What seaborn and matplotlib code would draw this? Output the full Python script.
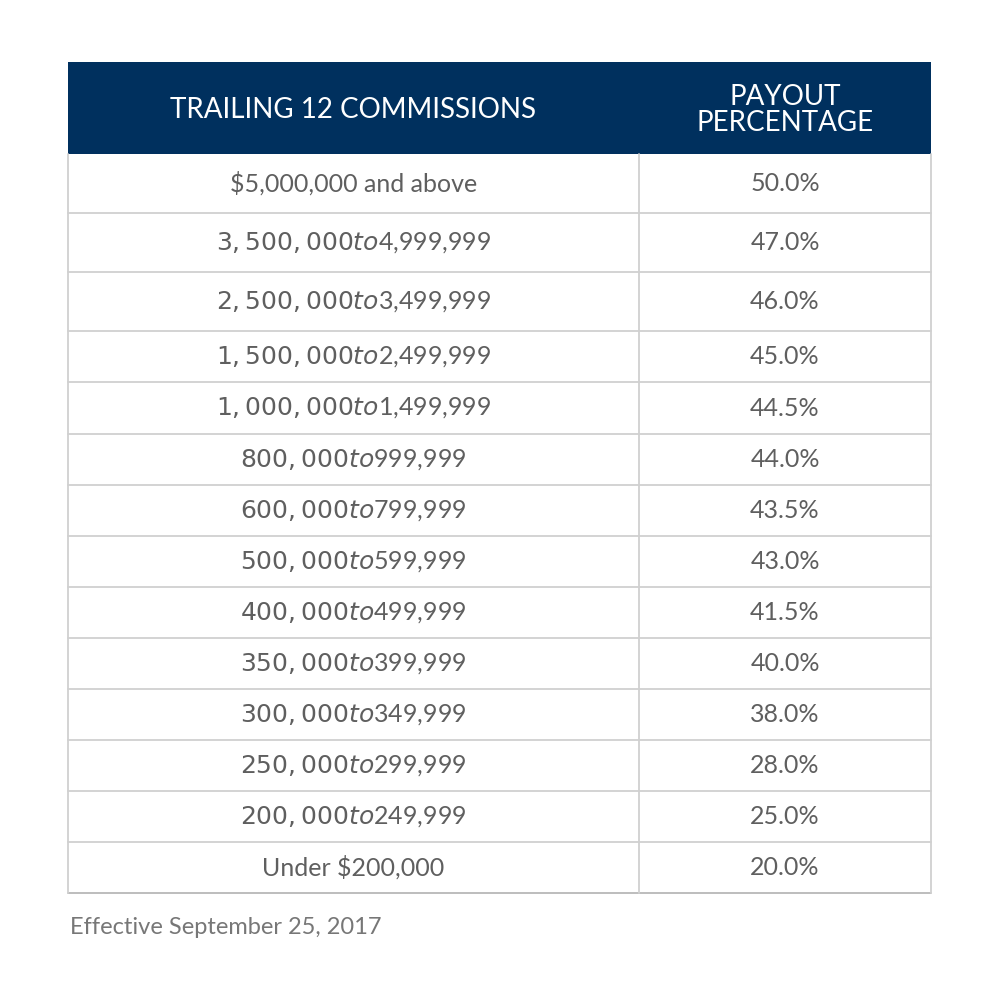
import matplotlib
matplotlib.use("Agg")
import matplotlib.pyplot as plt
import seaborn as sns
from matplotlib.patches import Rectangle

sns.set_theme(style="white")

header = ["TRAILING 12 COMMISSIONS", "PAYOUT\nPERCENTAGE"]
ranges = ["$5,000,000 and above", "$3,500,000 to $4,999,999", "$2,500,000 to $3,499,999",
          "$1,500,000 to $2,499,999", "$1,000,000 to $1,499,999", "$800,000 to $999,999",
          "$600,000 to $799,999", "$500,000 to $599,999", "$400,000 to $499,999",
          "$350,000 to $399,999", "$300,000 to $349,999", "$250,000 to $299,999",
          "$200,000 to $249,999", "Under $200,000"]
payout = [50.0, 47.0, 46.0, 45.0, 44.5, 44.0, 43.5, 43.0, 41.5, 40.0, 38.0, 28.0, 25.0, 20.0]
footnote = "Effective September 25, 2017"

FONT = "Lato"
GRAY = "#5f5f5f"
LINE = "#d0d0d0"
NAVY = "#00305e"

fig = plt.figure(figsize=(10, 10), dpi=100)
ax = fig.add_axes([0, 0, 1, 1])
ax.set_xlim(0, 1000)
ax.set_ylim(1000, 0)
ax.axis("off")

L, M, R = 68, 639, 931
htop, hbot = 62, 154
bounds = [154, 213, 272, 331, 382, 434, 485, 536, 587, 638, 689, 740, 791, 842, 893]

ax.add_patch(Rectangle((L, htop), R - L, hbot - htop, color=NAVY, lw=0))
ax.text((L + M) / 2, (htop + hbot) / 2 + 2, header[0], ha="center", va="center",
        color="white", fontsize=20, family=FONT)
ax.text((M + R) / 2, (htop + hbot) / 2 + 2, header[1], ha="center", va="center",
        color="white", fontsize=20, family=FONT, linespacing=1.0)

for i, (r, p) in enumerate(zip(ranges, payout)):
    y0, y1 = bounds[i], bounds[i + 1]
    yc = (y0 + y1) / 2
    ax.text((L + M) / 2, yc, r, ha="center", va="center", color=GRAY, fontsize=18, family=FONT)
    ax.text((M + R) / 2, yc, f"{p:.1f}%", ha="center", va="center", color=GRAY, fontsize=18, family=FONT)
    ax.plot([L, R], [y1, y1], color="#b8b8b8" if i == len(ranges) - 1 else LINE, lw=1.3)

ax.plot([L, L], [hbot, bounds[-1]], color=LINE, lw=1.3)
ax.plot([R, R], [hbot, bounds[-1]], color=LINE, lw=1.3)
ax.plot([M, M], [hbot, bounds[-1]], color=LINE, lw=1.3)

ax.text(70, 928, footnote, ha="left", va="center", color="#777777", fontsize=17, family=FONT)

fig.savefig("out.png", dpi=100, facecolor="white")
